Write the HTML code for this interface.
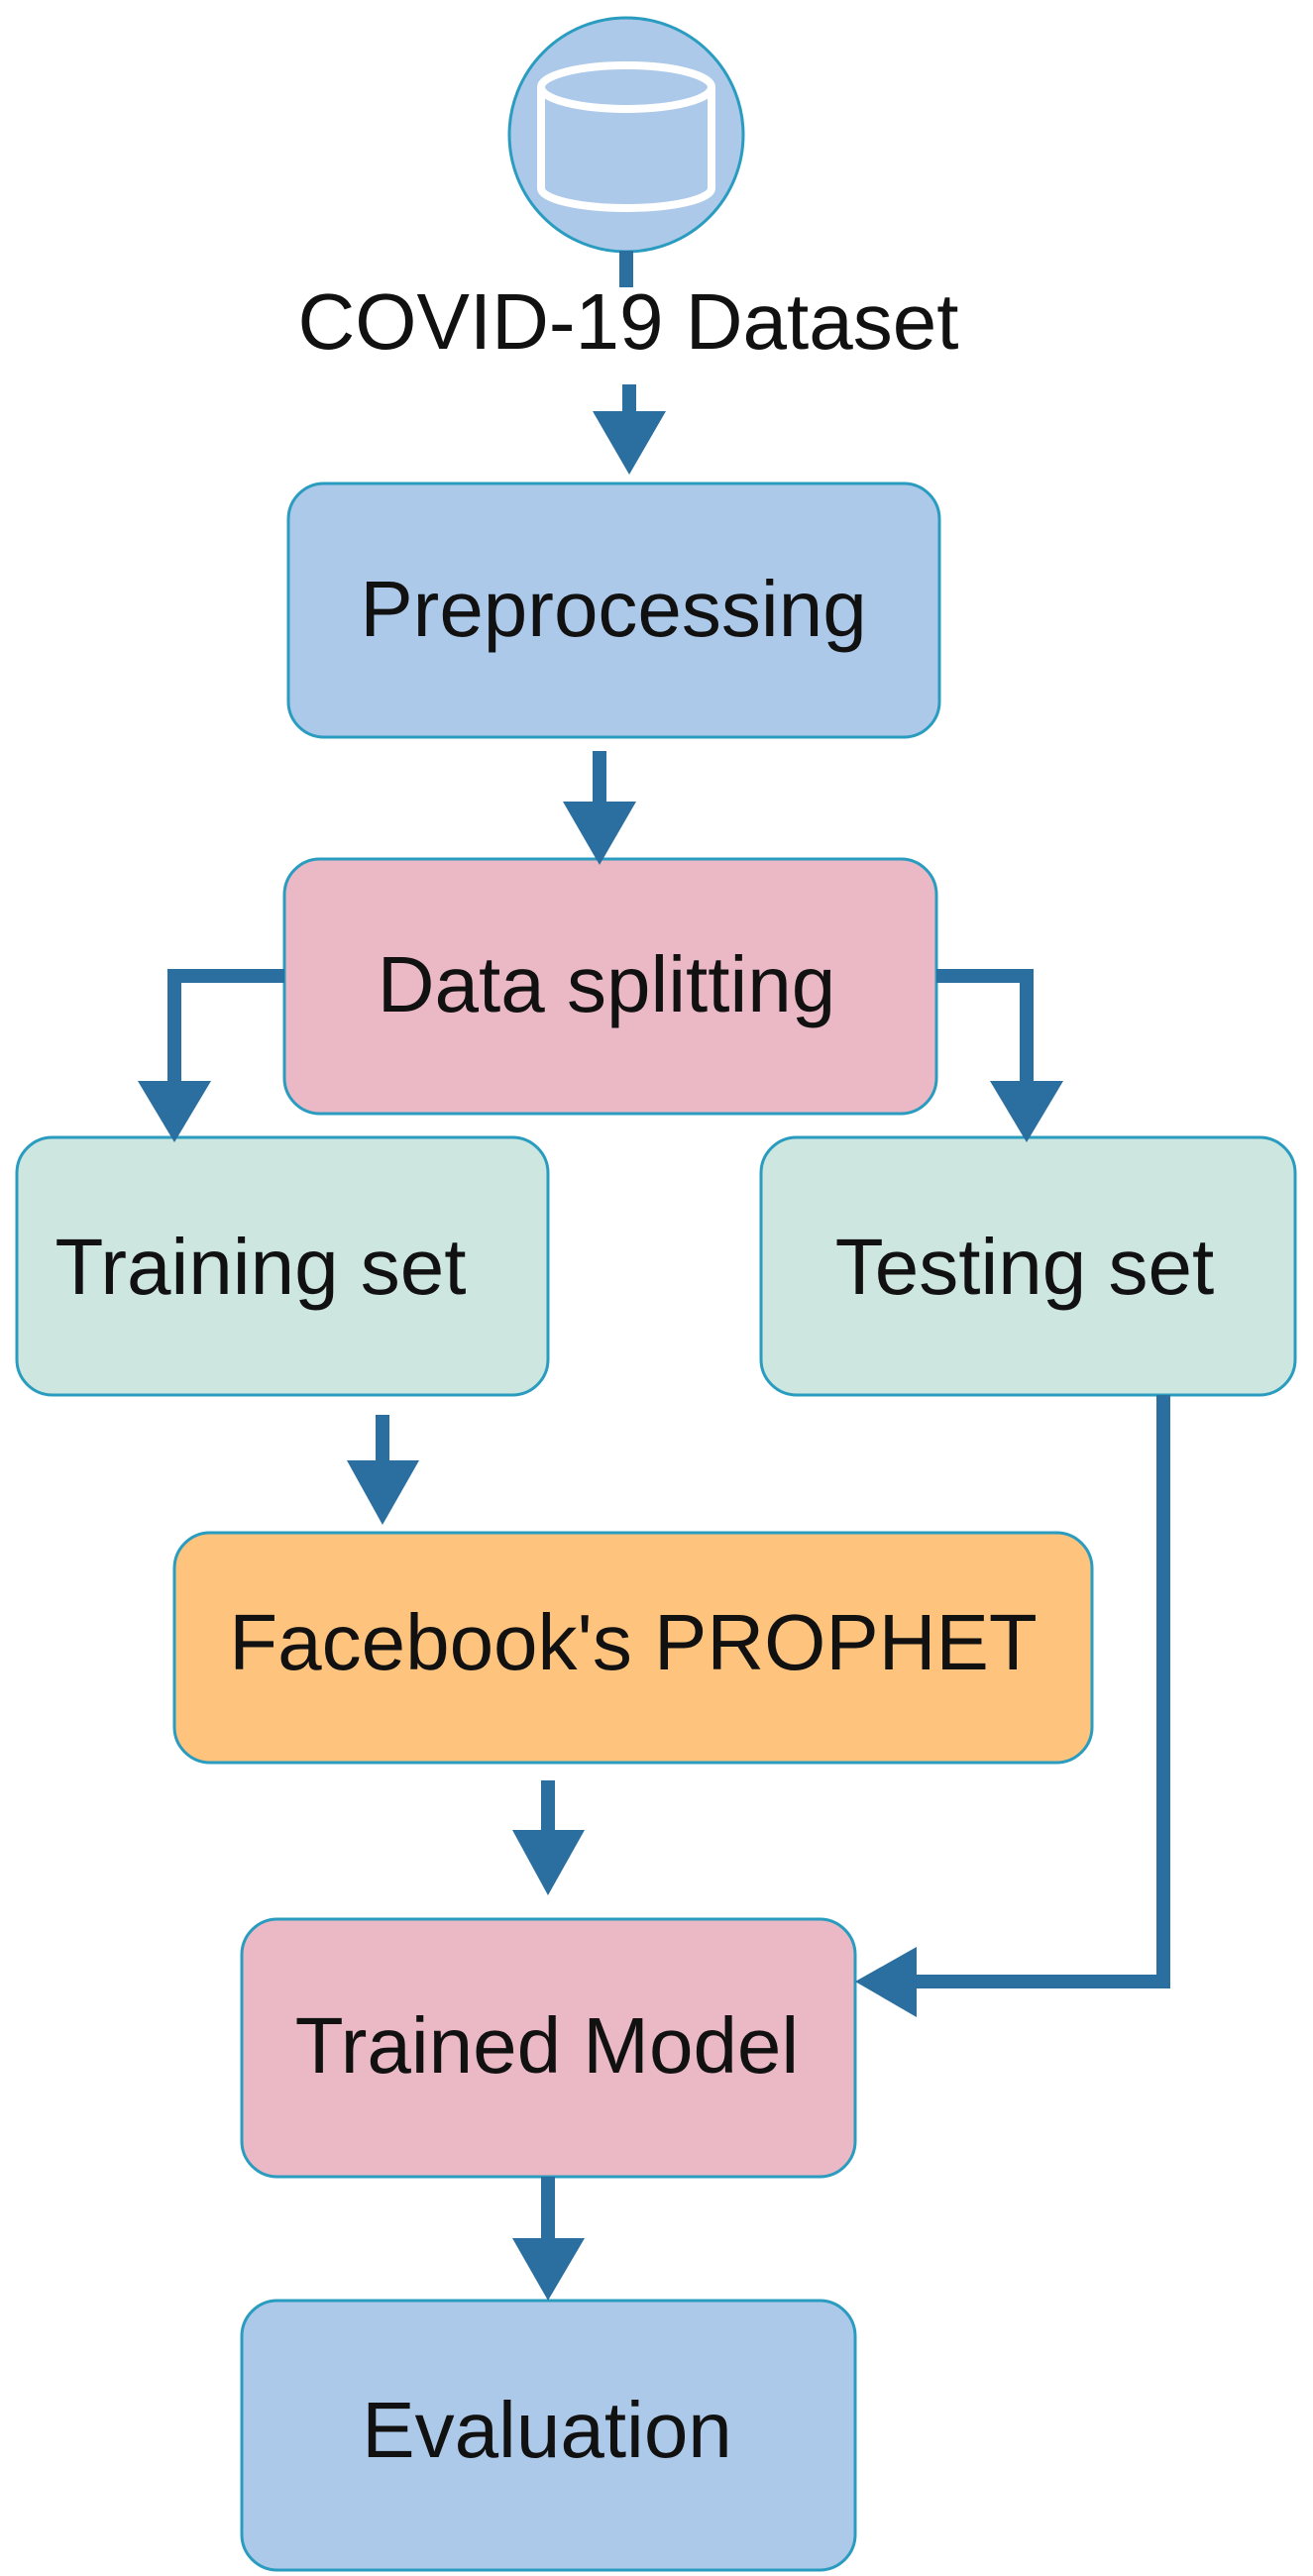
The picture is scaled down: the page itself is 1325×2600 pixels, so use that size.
<!DOCTYPE html>
<html><head><meta charset="utf-8"><style>
html,body{margin:0;padding:0;background:#fff;}
svg{display:block;}
text{font-family:"Liberation Sans",Arial,sans-serif;font-size:80px;fill:#111;text-anchor:middle;}
</style></head><body>
<svg width="1325" height="2600" viewBox="0 0 1325 2600" xmlns="http://www.w3.org/2000/svg">
<g stroke="#2a9cbf" stroke-width="3">
<circle cx="632" cy="136" r="118" fill="#adc9e9"/>
<rect x="291" y="488" width="657" height="256" rx="36" fill="#adc9e9"/>
<rect x="287" y="867" width="658" height="257" rx="36" fill="#eab9c5"/>
<rect x="17" y="1148" width="536" height="260" rx="36" fill="#cde6df"/>
<rect x="768" y="1148" width="539" height="260" rx="36" fill="#cde6df"/>
<rect x="176" y="1547" width="926" height="232" rx="36" fill="#fec37d"/>
<rect x="244" y="1937" width="619" height="260" rx="36" fill="#eab9c5"/>
<rect x="244" y="2322" width="619" height="272" rx="36" fill="#adc9e9"/>
</g>
<g stroke="#fff" stroke-width="8" fill="none">
<path d="M546 88 V190 A86 20 0 0 0 718 190 V88"/>
<ellipse cx="632" cy="88" rx="86" ry="22"/>
</g>
<g stroke="#2a6fa0" stroke-width="14" fill="none">
<line x1="632" y1="253" x2="632" y2="290"/>
<line x1="635" y1="388" x2="635" y2="420"/>
<line x1="605" y1="758" x2="605" y2="812"/>
<polyline points="287,985 176,985 176,1095"/>
<polyline points="945,985 1036,985 1036,1095"/>
<line x1="386" y1="1428" x2="386" y2="1478"/>
<line x1="553" y1="1797" x2="553" y2="1850"/>
<polyline points="1174,1408 1174,2000 920,2000"/>
<line x1="553" y1="2197" x2="553" y2="2262"/>
</g>
<g fill="#2a6fa0">
<polygon points="598,415 672,415 635,479"/>
<polygon points="568,809 642,809 605,873"/>
<polygon points="139,1091 213,1091 176,1153"/>
<polygon points="999,1091 1073,1091 1036,1153"/>
<polygon points="350,1474 423,1474 386,1539"/>
<polygon points="517,1847 590,1847 553,1913"/>
<polygon points="925,1965 925,2036 863,2000"/>
<polygon points="517,2259 590,2259 553,2322"/>
</g>
<text x="634" y="352">COVID-19 Dataset</text>
<text x="619" y="642">Preprocessing</text>
<text x="612" y="1021">Data splitting</text>
<text x="263" y="1306">Training set</text>
<text x="1034" y="1306">Testing set</text>
<text x="639" y="1685">Facebook's PROPHET</text>
<text x="552" y="2092">Trained Model</text>
<text x="552" y="2480">Evaluation</text>
</svg>
</body></html>
